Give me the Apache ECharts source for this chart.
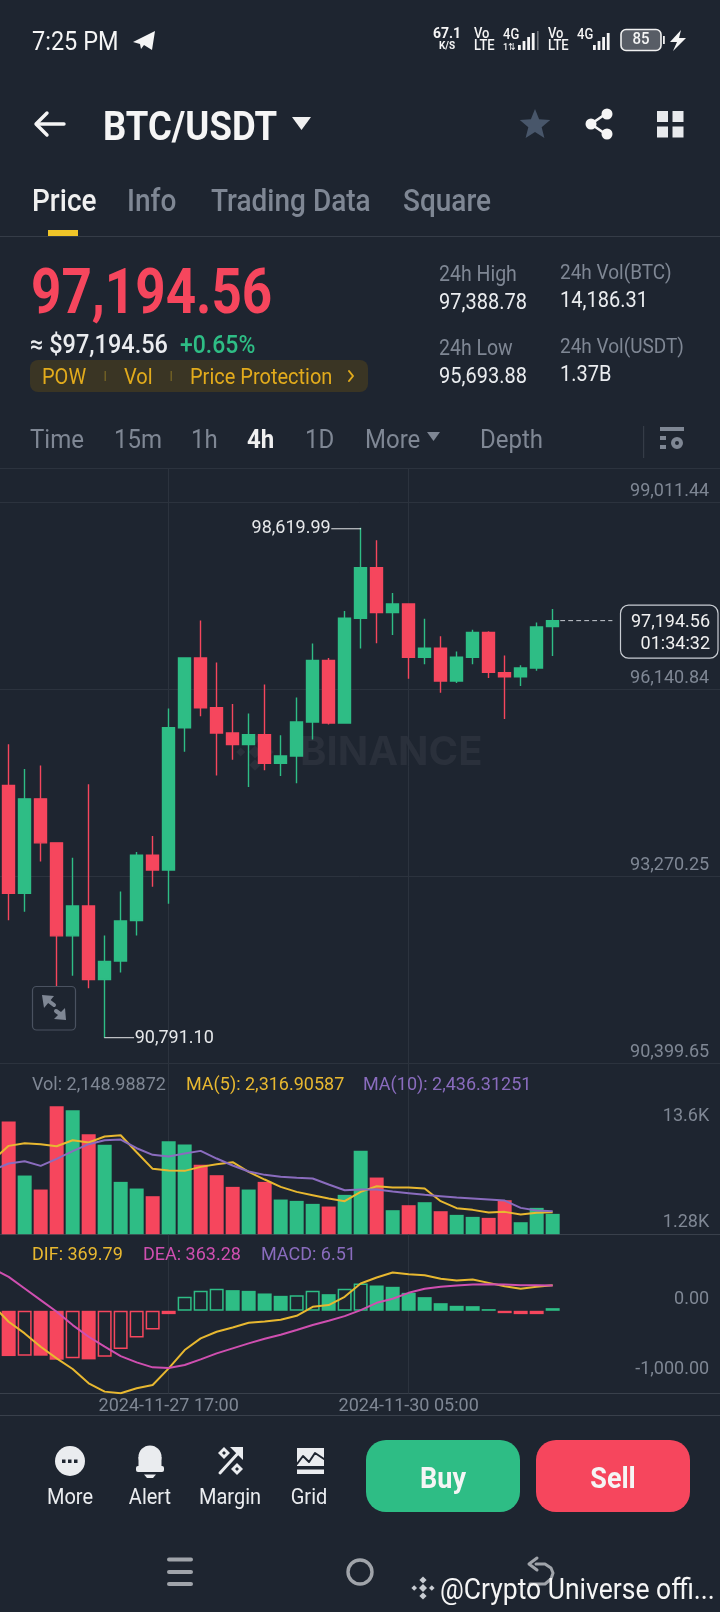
<!DOCTYPE html>
<html lang="en">
<head>
  <meta charset="UTF-8">
  <title>BTC/USDT</title>
  <script src="https://cdn.jsdelivr.net/npm/echarts@6/dist/echarts.min.js"></script>
  <style>
    html, body { margin: 0; padding: 0; background: #1e2530; }
    #chart { width: 720px; height: 1612px; }
  </style>
</head>
<body>
<div id="chart"></div>
<script>
  // 4h candles, the first slot sits off screen and only feeds the indicator lines
  var categories = ['2024-11-25 21:00',
    '2024-11-26 01:00', '2024-11-26 05:00', '2024-11-26 09:00', '2024-11-26 13:00', '2024-11-26 17:00', '2024-11-26 21:00',
    '2024-11-27 01:00', '2024-11-27 05:00', '2024-11-27 09:00', '2024-11-27 13:00', '2024-11-27 17:00', '2024-11-27 21:00',
    '2024-11-28 01:00', '2024-11-28 05:00', '2024-11-28 09:00', '2024-11-28 13:00', '2024-11-28 17:00', '2024-11-28 21:00',
    '2024-11-29 01:00', '2024-11-29 05:00', '2024-11-29 09:00', '2024-11-29 13:00', '2024-11-29 17:00', '2024-11-29 21:00',
    '2024-11-30 01:00', '2024-11-30 05:00', '2024-11-30 09:00', '2024-11-30 13:00', '2024-11-30 17:00', '2024-11-30 21:00',
    '2024-12-01 01:00', '2024-12-01 05:00', '2024-12-01 09:00', '2024-12-01 13:00', '2024-12-01 17:00',
    '', '', '', '', '', '', '', '', '', ''];
  var dateLabels = ['2024-11-27 17:00', '2024-11-30 05:00'];

  var opens = ['-', 94664, 93007, 94458, 93783, 92355, 92813, 91685, 91967, 92590, 93595, 93366, 95551, 96620, 95857, 95469, 95293, 95445, 95005, 95116, 95639, 96585, 95622, 97231, 98007, 97319, 97449, 96632, 96773, 96268, 96632, 97014, 96397, 96332, 96468, 97102];
  var closes = ['-', 93007, 94458, 93783, 92355, 92813, 91685, 91961, 92584, 93595, 93366, 95551, 96620, 95857, 95469, 95293, 95445, 95005, 95116, 95639, 96585, 95622, 97231, 98007, 97319, 97449, 96632, 96773, 96268, 96632, 97014, 96403, 96332, 96468, 97096, 97194.56];
  var lows = ['-', 92596, 92725, 93495, 91568, 91744, 91550, 90791.10, 91791, 92361, 93107, 92849, 95181, 95727, 94817, 95058, 94640, 94899, 94811, 94699, 95369, 95598, 95616, 96767, 96849, 96973, 96303, 96526, 96086, 96238, 96526, 96315, 95686, 96191, 96426, 96650];
  var highs = ['-', 95298, 94917, 94969, 93783, 93554, 94682, 92361, 93037, 93642, 93888, 95845, 96620, 97196, 96550, 95915, 95768, 96215, 95434, 96015, 96844, 96620, 97343, 98619.99, 98430, 97619, 97449, 97225, 96955, 96720, 97055, 97032, 96661, 96509, 97167, 97372];

  var volumes = [null, 11908, 6200, 4721, 13528, 13106, 10569, 9442, 5531, 4827, 4016, 9829, 9477, 7328, 6236, 5003, 4721, 5531, 3664, 3523, 3206, 2924, 4157, 8808, 5989, 2537, 3065, 3382, 2431, 2043, 1832, 1726, 3593, 1268, 2783, 2148.98872];
  var volMa5 = [7821, 9336, 9618, 9512, 9301, 9935, 9688, 10322, 10463, 8667, 6905, 6729, 6694, 7116, 7398, 7610, 6588, 5778, 5003, 4474, 4122, 3770, 3488, 4474, 5073, 4932, 4932, 4827, 3488, 2748, 2572, 2290, 2360, 2079, 2255, 2316.90587];
  var volMa10 = [6764, 7469, 7715, 7222, 7962, 8772, 9512, 9935, 10005, 9089, 8385, 8209, 8526, 8808, 7997, 7257, 6623, 6271, 6060, 5954, 5883, 5249, 4650, 4721, 4721, 4509, 4333, 4157, 4016, 3875, 3770, 3664, 3558, 2783, 2501, 2436.31251];

  var macdValues = [null, -653, -648, -648, -706, -686, -701, -662, -552, -384, -269, -48, 202, 288, 317, 298, 288, 250, 216, 226, 288, 240, 317, 394, 365, 346, 259, 197, 110, 72, 67, 24, -34, -48, -48, 38];
  var macdHollow = [0, 0, 1, 0, 0, 1, 0, 1, 1, 1, 1, 0, 1, 1, 1, 0, 0, 0, 0, 1, 1, 0, 1, 1, 0, 0, 0, 0, 0, 0, 0, 0, 0, 0, 0, 0];
  var difValues = [82, -158, -326, -518, -686, -840, -1046, -1166, -1190, -1118, -1070, -830, -566, -398, -302, -240, -173, -154, -130, -72, 58, 82, 202, 394, 480, 552, 528, 514, 461, 437, 451, 403, 355, 317, 346, 369.79];
  var deaValues = [610, 490, 322, 154, -14, -206, -374, -518, -653, -744, -816, -826, -782, -701, -614, -542, -470, -403, -346, -278, -206, -144, -77, 10, 115, 173, 259, 317, 346, 365, 379, 384, 379, 370, 370, 363.28];

  var priceTicks = [99011.44, 96140.84, 93270.25, 90399.65];
  var volTicks = [13600, 1280];
  var macdTicks = [0, -1000];

  var GREEN = '#2ebd85', RED = '#f6465d', BG = '#1e2530';
  var LINE = '#2c333e', LINE2 = '#39404b', GRAY = '#7f8794', WHITE = '#eaecef';
  var YELLOW = '#e8b830', PURPLE = '#8a6cbe', PINK = '#cf4fb0';
  var FONT = 'Roboto';

  var chart = echarts.init(document.getElementById('chart'));

  var candleData = opens.map(function (o, i) { return [o, closes[i], lows[i], highs[i]]; });

  function up(i) { return closes[i] >= opens[i]; }

  // grid lines behind the marks, same style everywhere
  function guides(list) {
    return { silent: true, symbol: 'none', z: 1, animation: false, label: { show: false },
      lineStyle: { color: LINE, width: 1, type: 'solid' }, data: list };
  }
  var timeGuides = dateLabels.map(function (d) { return { xAxis: categories.indexOf(d) }; });

  function xAxisFor(idx, labels) {
    return {
      type: 'category', gridIndex: idx, data: categories, boundaryGap: true,
      axisTick: { show: false },
      axisLine: { show: true, onZero: false, lineStyle: { color: idx === 0 ? LINE : LINE2, width: 1 } },
      splitLine: { show: false },
      axisLabel: labels ? {
        show: true, color: GRAY, fontFamily: FONT, fontSize: 18, margin: 4,
        interval: function (i, v) { return dateLabels.indexOf(v) >= 0; }
      } : { show: false }
    };
  }
  function money(v) {
    return v.toLocaleString('en-US', { minimumFractionDigits: 2, maximumFractionDigits: 2 });
  }
  function yAxisFor(idx, min, max, ticks, fmt, rich) {
    var label = {
      inside: true, color: GRAY, fontFamily: FONT, fontSize: 18, margin: 11.5,
      customValues: ticks, formatter: fmt, showMinLabel: true, showMaxLabel: true
    };
    if (rich) { label.rich = rich; } else { label.verticalAlign = 'bottom'; label.padding = [0, 0, 2, 0]; }
    return {
      type: 'value', gridIndex: idx, position: 'right', min: min, max: max, scale: true,
      splitLine: { show: false }, axisTick: { show: false }, axisLine: { show: false },
      axisLabel: label
    };
  }
  // the off-screen slot needs a grid that starts left of the canvas
  var gridBox = { left: -15.33, width: 736, outerBoundsMode: 'none' };

  chart.setOption({
    backgroundColor: BG,
    animation: false,
    grid: [
      Object.assign({ top: 469, height: 594.2 }, gridBox),
      Object.assign({ top: 1063.2, height: 171 }, gridBox),
      Object.assign({ top: 1234.2, height: 159.2 }, gridBox)
    ],
    xAxis: [xAxisFor(0), xAxisFor(1), xAxisFor(2, true)],
    yAxis: [
      yAxisFor(0, 90399.65, 99522.7, priceTicks, money),
      yAxisFor(1, 0, 18073, volTicks, function (v) {
        return v === 13600 ? '{hi|13.6K}' : '{lo|1.28K}';
      }, {
        hi: { color: GRAY, fontFamily: FONT, fontSize: 18, padding: [22, 0, 0, 0] },
        lo: { color: GRAY, fontFamily: FONT, fontSize: 18 }
      }),
      yAxisFor(2, -1191.6, 1105, macdTicks, money)
    ],
    series: [
      {
        name: 'Price', type: 'candlestick', xAxisIndex: 0, yAxisIndex: 0, z: 2,
        barWidth: 13, data: candleData,
        itemStyle: { color: GREEN, color0: RED, borderColor: GREEN, borderColor0: RED, borderWidth: 1.4 },
        markLine: guides(timeGuides.concat(priceTicks.slice(0, 3).map(function (v) { return { yAxis: v }; })))
      },
      {
        name: 'Vol', type: 'bar', xAxisIndex: 1, yAxisIndex: 1, barWidth: 14, z: 2,
        data: volumes.map(function (v, i) {
          return { value: v, itemStyle: { color: up(i) ? GREEN : RED } };
        }),
        markLine: guides(timeGuides)
      },
      { name: 'MA(5)', type: 'line', xAxisIndex: 1, yAxisIndex: 1, data: volMa5, z: 3, symbol: 'none', lineStyle: { color: YELLOW, width: 2 } },
      { name: 'MA(10)', type: 'line', xAxisIndex: 1, yAxisIndex: 1, data: volMa10, z: 3, symbol: 'none', lineStyle: { color: PURPLE, width: 2 } },
      {
        name: 'MACD', type: 'bar', xAxisIndex: 2, yAxisIndex: 2, barWidth: 14, z: 2,
        data: macdValues.map(function (v, i) {
          var c = v >= 0 ? GREEN : RED;
          return { value: v, itemStyle: macdHollow[i]
            ? { color: 'rgba(0,0,0,0)', borderColor: c, borderWidth: 1.5 }
            : { color: c } };
        }),
        markLine: guides(timeGuides)
      },
      { name: 'DIF', type: 'line', xAxisIndex: 2, yAxisIndex: 2, data: difValues, z: 3, symbol: 'none', lineStyle: { color: YELLOW, width: 2 } },
      { name: 'DEA', type: 'line', xAxisIndex: 2, yAxisIndex: 2, data: deaValues, z: 3, symbol: 'none', lineStyle: { color: PINK, width: 2 } }
    ]
  });

  // ---- everything around the plot: app chrome, legends, icons ----
  var els = [];
  var tall = 1.1;  // the screenshot's header type is narrower and taller than Roboto
  function text(x, y, s, size, color, weight, align) {
    els.push({ type: 'text', x: x, y: y + 2.5, z: 100, silent: true, scaleY: tall, style: {
      text: s, fill: color, align: align || 'left', verticalAlign: 'middle',
      font: (weight || 400) + ' ' + size + 'px ' + FONT
    } });
  }
  function rect(x, y, w, h, fill, r, stroke, lw) {
    els.push({ type: 'rect', z: 100, silent: true, shape: { x: x, y: y, width: w, height: h, r: r || 0 },
      style: { fill: fill, stroke: stroke, lineWidth: lw || 1 } });
  }
  function poly(points, fill) {
    els.push({ type: 'polygon', z: 100, silent: true, shape: { points: points }, style: { fill: fill } });
  }
  function line(points, color, lw, dash) {
    els.push({ type: 'polyline', z: 100, silent: true, shape: { points: points },
      style: { fill: null, stroke: color, lineWidth: lw || 1, lineDash: dash, lineCap: 'round', lineJoin: 'round' } });
  }
  function circle(cx, cy, r, fill, stroke, lw) {
    els.push({ type: 'circle', z: 100, silent: true, shape: { cx: cx, cy: cy, r: r },
      style: { fill: fill, stroke: stroke, lineWidth: lw || 1 } });
  }
  function diamond(cx, cy, r, fill, zv) {
    els.push({ type: 'polygon', z: zv === undefined ? 100 : zv, silent: true,
      shape: { points: [[cx, cy - r], [cx + r, cy], [cx, cy + r], [cx - r, cy]] }, style: { fill: fill } });
  }
  function binanceMark(cx, cy, s, fill, zv) {
    diamond(cx, cy, s, fill, zv);
    diamond(cx - 2.2 * s, cy, s * 0.7, fill, zv);
    diamond(cx + 2.2 * s, cy, s * 0.7, fill, zv);
    diamond(cx, cy - 2 * s, s * 0.9, fill, zv);
    diamond(cx, cy + 2 * s, s * 0.9, fill, zv);
  }
  function signal(x, heights, color) {
    heights.forEach(function (h, i) { rect(x + i * 4.6, 50 - h, 2.8, h, color); });
  }

  // status bar
  text(32, 41, '7:25 PM', 23.5, '#f5f5f5');
  poly([[133, 42], [155, 31], [152, 50], [144, 45], [141, 49], [140, 44]], '#f5f5f5');
  text(447, 32, '67.1', 14, '#f5f5f5', 700, 'center');
  text(447, 44, 'K/S', 10, '#f5f5f5', 700, 'center');
  text(474, 32, 'Vo', 13, '#f5f5f5', 500);
  text(474, 44, 'LTE', 13, '#f5f5f5', 500);
  text(503, 33, '4G', 13, '#f5f5f5', 500);
  text(503, 45, '1\u21C5', 9, '#f5f5f5', 500);
  signal(518, [5, 9, 13, 17], '#f5f5f5');
  rect(537, 31, 1.6, 19, '#6c7178');
  text(548, 32, 'Vo', 13, '#f5f5f5', 500);
  text(548, 44, 'LTE', 13, '#f5f5f5', 500);
  text(577, 33, '4G', 13, '#f5f5f5', 500);
  signal(593, [5, 9, 13, 17], '#f5f5f5');
  rect(621, 29.5, 40, 21, '#585d66', 5, '#f0f0f0', 1.6);
  rect(663, 36, 1.8, 8, '#f0f0f0');
  text(641, 37.5, '85', 15, '#f5f5f5', 500, 'center');
  poly([[681, 30], [670, 42], [677, 42], [673, 51], [686, 38], [679, 38]], '#f5f5f5');

  // title row
  line([[37, 124], [64, 124]], '#f5f5f5', 3.4);
  line([[47, 113], [36, 124], [47, 135]], '#f5f5f5', 3.4);
  text(103, 127, 'BTC/USDT', 36.5, '#f5f5f5', 700);
  poly([[292, 117], [311, 117], [301.5, 130]], '#f0f0f0');
  var star = [];
  for (var k = 0; k < 10; k++) {
    var rad = k % 2 ? 7 : 16, ang = -Math.PI / 2 + k * Math.PI / 5;
    star.push([535 + rad * Math.cos(ang), 125 + rad * Math.sin(ang)]);
  }
  poly(star, '#48566a');
  line([[607, 113], [591, 124], [607, 135]], '#f5f5f5', 2.6);
  circle(607, 114, 5.5, '#f5f5f5');
  circle(591, 124, 5.5, '#f5f5f5');
  circle(607, 134, 5.5, '#f5f5f5');
  rect(657, 111, 11, 11, '#e8eaed');
  rect(672.5, 111, 11, 11, '#e8eaed');
  rect(657, 126.5, 11, 11, '#e8eaed');
  rect(672.5, 126.5, 11, 11, '#e8eaed');

  // tabs
  text(32, 201, 'Price', 28, '#f0f0f0', 500);
  text(127, 201, 'Info', 28, GRAY, 500);
  text(211, 201, 'Trading Data', 28, GRAY, 500);
  text(403, 201, 'Square', 28, GRAY, 500);
  rect(48, 230, 30, 6, '#f0c528');
  rect(0, 236, 720, 1, '#353c47');

  // ticker block
  tall = 1.18;
  text(31, 295, '97,194.56', 53, RED, 700);
  tall = 1.1;
  text(30, 344, '\u2248 $97,194.56', 23.5, '#eaecef', 500);
  text(180, 344, '+0.65%', 23, GREEN, 500);
  rect(30, 360, 338, 32, '#3a3524', 8);
  text(42, 376, 'POW', 20, '#e2ab1c');
  rect(104.5, 371, 1.5, 10, '#6e5e24');
  text(124, 376, 'Vol', 20, '#e2ab1c');
  rect(170.5, 371, 1.5, 10, '#6e5e24');
  text(190, 376, 'Price Protection', 20, '#e2ab1c');
  line([[349, 371], [353, 376], [349, 381]], '#e2ab1c', 2);
  text(439, 273, '24h High', 19.5, GRAY);
  text(439, 301, '97,388.78', 20, '#eaecef');
  text(439, 347, '24h Low', 19.5, GRAY);
  text(439, 375, '95,693.88', 20, '#eaecef');
  text(560, 271, '24h Vol(BTC)', 19, GRAY);
  text(560, 299, '14,186.31', 20, '#eaecef');
  text(560, 345, '24h Vol(USDT)', 19, GRAY);
  text(560, 373, '1.37B', 20, '#eaecef');

  // interval row
  text(30, 439, 'Time', 24, GRAY);
  text(114, 439, '15m', 24, GRAY);
  text(191, 439, '1h', 24, GRAY);
  text(247, 439, '4h', 24, '#f0f0f0', 700);
  text(305, 439, '1D', 24, GRAY);
  text(365, 439, 'More', 24, GRAY);
  poly([[427, 432], [440, 432], [433.5, 441]], GRAY);
  text(480, 439, 'Depth', 24, GRAY);
  rect(643, 426, 1.2, 32, '#353c47');
  rect(660, 427, 24, 4, GRAY);
  rect(660, 436, 6, 4, GRAY);
  rect(660, 445, 6, 4, GRAY);
  circle(677, 443, 4, null, GRAY, 4);
  rect(0, 468, 720, 1, LINE);
  rect(0, 1415, 720, 1, LINE2);

  // watermark sits under the candles
  binanceMark(255, 752, 6.5, '#2a303b', 0);
  els.push({ type: 'text', x: 300, y: 753, z: 0, silent: true, style: {
    text: 'BINANCE', fill: '#2a303b', verticalAlign: 'middle', font: '700 40px Inter' } });

  // expand button on the price panel
  rect(32.5, 986.5, 43, 43.5, BG, 4, '#4a5260', 1.2);
  line([[46, 999], [54, 1005]], GRAY, 4);
  line([[56, 1011], [63, 1016]], GRAY, 4);
  poly([[42, 995], [54, 996], [44, 1008]], GRAY);
  poly([[66, 1020], [54, 1019], [65, 1008]], GRAY);

  // indicator legends
  tall = 1;
  text(32, 1083, 'Vol: 2,148.98872', 18, GRAY);
  text(186, 1083, 'MA(5): 2,316.90587', 18, YELLOW);
  text(363, 1083, 'MA(10): 2,436.31251', 18, PURPLE);
  text(32, 1253, 'DIF: 369.79', 18, YELLOW);
  text(143, 1253, 'DEA: 363.28', 18, PINK);
  text(261, 1253, 'MACD: 6.51', 18, PURPLE);

  // bottom actions
  circle(70, 1461, 15, WHITE);
  [-6, 0, 6].forEach(function (d) { rect(68 + d, 1459.5, 3.5, 3.5, BG); });
  circle(150, 1457, 11.5, WHITE);
  rect(138.5, 1457, 23, 14, WHITE);
  rect(136, 1466, 28, 6, WHITE, 2);
  poly([[144, 1474.5], [156, 1474.5], [153, 1478], [147, 1478]], WHITE);
  line([[220, 1473], [241, 1450]], WHITE, 3);
  poly([[230, 1447], [243, 1447], [243, 1460]], WHITE);
  diamond(224, 1453, 6, WHITE);
  diamond(224, 1453, 2, BG);
  diamond(237, 1469, 6, WHITE);
  diamond(237, 1469, 2, BG);
  rect(297, 1448, 27, 18, WHITE);
  line([[297, 1464], [303, 1456], [309, 1462], [315, 1453], [324, 1459]], BG, 2);
  rect(297, 1469.5, 27, 4.5, WHITE);
  tall = 1.08;
  text(70, 1496, 'More', 20, WHITE, 400, 'center');
  text(150, 1496, 'Alert', 20, WHITE, 400, 'center');
  text(230, 1496, 'Margin', 20, WHITE, 400, 'center');
  text(309, 1496, 'Grid', 20, WHITE, 400, 'center');
  rect(366, 1440, 154, 72, GREEN, 20);
  rect(536, 1440, 154, 72, RED, 20);
  text(443, 1478, 'Buy', 27, '#f5f5f5', 700, 'center');
  text(613, 1478, 'Sell', 27, '#f5f5f5', 700, 'center');

  // android nav and the repost tag
  var NAV = '#a0a4aa';
  rect(167, 1557.5, 26, 4, NAV, 2);
  rect(167, 1570, 26, 4, NAV, 2);
  rect(167, 1582, 26, 4, NAV, 2);
  circle(360, 1572, 12, null, NAV, 3.4);
  line([[536, 1564], [545, 1564], [551, 1568], [553, 1573], [551, 1579], [545, 1584], [530, 1584]], NAV, 3);
  line([[537, 1558], [529, 1564], [537, 1570]], NAV, 3);
  binanceMark(423, 1588, 4, '#c8ccd2');
  text(440, 1589, '@Crypto Universe offi...', 26.5, '#f5f5f5', 400);

  // price callouts hang off the candles, so take the pixels from the axes
  tall = 1;
  function px(cat, v) { return chart.convertToPixel({ xAxisIndex: 0, yAxisIndex: 0 }, [cat, v]); }
  var hiIdx = highs.indexOf(98619.99), loIdx = lows.indexOf(90791.10), lastIdx = closes.length - 1;
  var hiP = px(hiIdx, highs[hiIdx]), loP = px(loIdx, lows[loIdx]), lastP = px(lastIdx, closes[lastIdx]);
  line([[hiP[0] - 29, hiP[1] + 1], [hiP[0], hiP[1] + 1]], '#e6e8ea', 1);
  text(hiP[0] - 30, hiP[1] - 1.5, '98,619.99', 18, '#e6e8ea', 400, 'right');
  line([[loP[0], loP[1]], [loP[0] + 29, loP[1]]], '#e6e8ea', 1);
  text(loP[0] + 30, loP[1] - 1.5, '90,791.10', 18, '#e6e8ea', 400, 'left');
  line([[lastP[0] + 8, lastP[1]], [612, lastP[1]]], '#c8ccd2', 1, [4, 4]);
  rect(620.5, lastP[1] - 15.5, 97.5, 53, BG, 8, '#c8ccd2', 1.2);
  text(710, lastP[1] - 1, '97,194.56', 18, '#f0f0f0', 400, 'right');
  text(710, lastP[1] + 21, '01:34:32', 18, '#f0f0f0', 400, 'right');

  chart.setOption({ graphic: { elements: els } });
</script>
</body>
</html>
